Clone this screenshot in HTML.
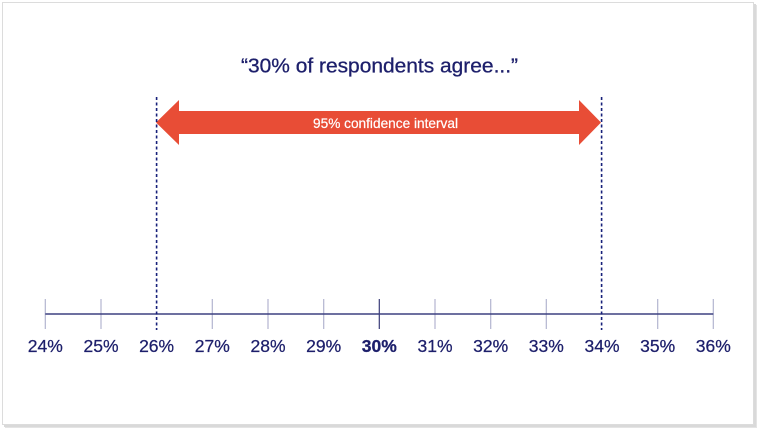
<!DOCTYPE html>
<html>
<head>
<meta charset="utf-8">
<style>
  html, body { margin: 0; padding: 0; background: #ffffff; }
  body { width: 760px; height: 430px; overflow: hidden; }
  svg { display: block; }
  text { font-family: "Liberation Sans", sans-serif; }
</style>
</head>
<body>
<svg width="760" height="430" viewBox="0 0 760 430" xmlns="http://www.w3.org/2000/svg">
  <!-- card frame with shadow -->
  <rect x="0" y="0" width="760" height="430" fill="#ffffff"/>
  <rect x="5" y="5" width="752" height="423" fill="#e4e4e4"/>
  <rect x="4" y="4" width="752" height="423" fill="#d9d9d9"/>
  <rect x="2.5" y="2.5" width="751" height="422" fill="#ffffff" stroke="#dcdcdc" stroke-width="1"/>

  <!-- title -->
  <text x="379.5" y="72.5" text-anchor="middle" font-size="20.5" fill="#1d1f6b" stroke="#1d1f6b" stroke-width="0.3" textLength="277" lengthAdjust="spacingAndGlyphs">“30% of respondents agree...”</text>

  <!-- arrow -->
  <polygon points="156,122.5 179,100 179,111 579,111 579,100 601,122.5 579,145 579,134 179,134 179,145" fill="#e84d36"/>
  <text x="385.5" y="128" text-anchor="middle" font-size="13.8" fill="#ffffff" stroke="#ffffff" stroke-width="0.2" textLength="145" lengthAdjust="spacingAndGlyphs">95% confidence interval</text>

  <!-- ticks -->
  <g stroke="#b3b5d0" stroke-width="1.2">
    <line x1="45.3" y1="299" x2="45.3" y2="329"/>
    <line x1="101" y1="299" x2="101" y2="329"/>
    <line x1="212.3" y1="299" x2="212.3" y2="329"/>
    <line x1="268" y1="299" x2="268" y2="329"/>
    <line x1="323.7" y1="299" x2="323.7" y2="329"/>
    <line x1="435" y1="299" x2="435" y2="329"/>
    <line x1="490.7" y1="299" x2="490.7" y2="329"/>
    <line x1="546.3" y1="299" x2="546.3" y2="329"/>
    <line x1="657.7" y1="299" x2="657.7" y2="329"/>
    <line x1="713.3" y1="299" x2="713.3" y2="329"/>
  </g>
  <line x1="379.3" y1="299" x2="379.3" y2="329" stroke="#3a3d78" stroke-width="1.2"/>

  <!-- axis line -->
  <line x1="45.3" y1="314" x2="713.3" y2="314" stroke="#3d4080" stroke-width="1.6"/>

  <!-- dashed CI bounds -->
  <g stroke="#17207a" stroke-width="1.6" stroke-dasharray="3,2.5">
    <line x1="156.6" y1="97" x2="156.6" y2="330"/>
    <line x1="601.6" y1="97" x2="601.6" y2="330"/>
  </g>

  <!-- tick labels -->
  <g font-size="17.5" fill="#1d1f6b" stroke="#1d1f6b" stroke-width="0.25" text-anchor="middle">
    <text x="45.3" y="352">24%</text>
    <text x="101" y="352">25%</text>
    <text x="156.6" y="352">26%</text>
    <text x="212.3" y="352">27%</text>
    <text x="268" y="352">28%</text>
    <text x="323.7" y="352">29%</text>
    <text x="379.3" y="352" font-weight="bold">30%</text>
    <text x="435" y="352">31%</text>
    <text x="490.7" y="352">32%</text>
    <text x="546.3" y="352">33%</text>
    <text x="602" y="352">34%</text>
    <text x="657.7" y="352">35%</text>
    <text x="713.3" y="352">36%</text>
  </g>
</svg>
</body>
</html>
